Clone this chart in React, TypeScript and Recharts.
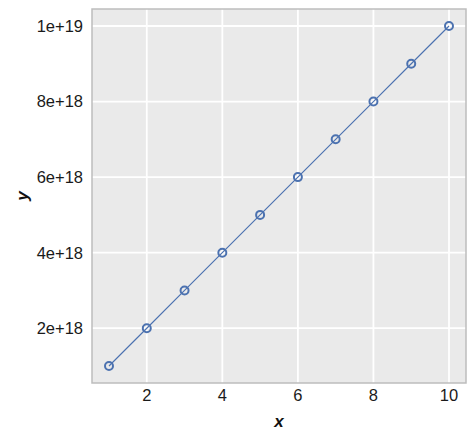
import React from "react";
import { LineChart, Line, XAxis, YAxis, CartesianGrid, ReferenceArea, Label } from "recharts";

const xValues = [1, 2, 3, 4, 5, 6, 7, 8, 9, 10];
const yValues = [1e18, 2e18, 3e18, 4e18, 5e18, 6e18, 7e18, 8e18, 9e18, 1e19];
const xTicks = [2, 4, 6, 8, 10];
const yTicks = [2e18, 4e18, 6e18, 8e18, 1e19];
const xDomain: [number, number] = [0.55, 10.45];
const yDomain: [number, number] = [0.55e18, 10.45e18];

const data = xValues.map((x, i) => ({ x, y: yValues[i] }));

const tickStyle = { fontFamily: "'Liberation Sans', Arial, sans-serif", fontSize: 16.5, fill: "#1a1a1a" };

export default function App() {
  return (
    <div style={{ position: "absolute", left: 0, top: 0, background: "#fff" }}>
      <LineChart
        width={474}
        height={442}
        data={data}
        margin={{ top: 9, right: 8, bottom: 29, left: 0 }}
      >
        <CartesianGrid
          fill="#eaeaea"
          stroke="#ffffff"
          strokeWidth={1.8}
          horizontalValues={yTicks}
          verticalValues={xTicks}
        />
        <XAxis
          dataKey="x"
          type="number"
          domain={xDomain}
          ticks={xTicks}
          allowDataOverflow
          axisLine={false}
          tickLine={false}
          tickSize={0}
          tickMargin={6}
          height={30}
          tick={tickStyle}
        >
          <Label
            value="x"
            position="insideBottom"
            offset={-14}
            style={{ fontFamily: "'Liberation Sans', Arial, sans-serif", fontSize: 17, fontWeight: "bold", fontStyle: "italic", fill: "#111" }}
          />
        </XAxis>
        <YAxis
          dataKey="y"
          type="number"
          domain={yDomain}
          ticks={yTicks}
          allowDataOverflow
          axisLine={false}
          tickLine={false}
          tickSize={0}
          tickMargin={9}
          width={92}
          tick={tickStyle}
          tickFormatter={(v: number) => v.toExponential(0)}
        >
          <Label
            value="y"
            angle={-90}
            position="insideLeft"
            offset={22}
            style={{ fontFamily: "'Liberation Sans', Arial, sans-serif", fontSize: 17, fontWeight: "bold", fontStyle: "italic", fill: "#111", textAnchor: "middle" }}
          />
        </YAxis>
        <ReferenceArea
          x1={xDomain[0]}
          x2={xDomain[1]}
          y1={yDomain[0]}
          y2={yDomain[1]}
          fill="none"
          stroke="#bdbdbd"
          strokeWidth={1.5}
          ifOverflow="extendDomain"
        />
        <Line
          type="linear"
          dataKey="y"
          stroke="#4c72b0"
          strokeWidth={1.2}
          dot={{ r: 4, fill: "none", stroke: "#4c72b0", strokeWidth: 2 }}
          activeDot={false}
          isAnimationActive={false}
        />
      </LineChart>
    </div>
  );
}
